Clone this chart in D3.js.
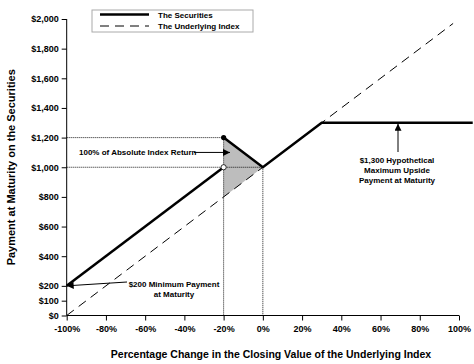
<!DOCTYPE html>
<html>
<head>
<meta charset="utf-8">
<script src="https://cdn.jsdelivr.net/npm/d3@7"></script>
<style>
  html, body { margin: 0; padding: 0; background: #fff; }
  svg { display: block; }
</style>
</head>
<body>
<div id="chart"></div>
<script>
const INK  = '#000000';
const SHADE = '#bdbdbd';
const FONT = "'Liberation Sans', Arial, sans-serif";

// Data (index return in %, payment in $)
const xTicks = [-100, -80, -60, -40, -20, 0, 20, 40, 60, 80, 100];
const yTicks = [0, 100, 200, 400, 600, 800, 1000, 1200, 1400, 1600, 1800, 2000];
const securitiesLow  = [[-100, 200], [-20, 1000]];
const securitiesHigh = [[-20, 1200], [0, 1000], [30, 1300], [107, 1300]];
const indexLine      = [[-100, 0], [97, 1970]];
const shaded         = [[-20, 1200], [0, 1000], [-20, 800]];
const legendItems    = [
  { label: 'The Securities', dash: null, width: 2.5 },
  { label: 'The Underlying Index', dash: '9,6', width: 1 }
];

const W = 474, H = 364;
const x = d3.scaleLinear().domain([-100, 100]).range([66.7, 459]);
const y = d3.scaleLinear().domain([0, 2000]).range([315.5, 19]);

const svg = d3.select('#chart').append('svg')
  .attr('width', W).attr('height', H)
  .style('font-family', FONT);

svg.append('defs').append('marker')
  .attr('id', 'arrow')
  .attr('viewBox', '0 0 10 10')
  .attr('refX', 10).attr('refY', 5)
  .attr('markerWidth', 10).attr('markerHeight', 7)
  .attr('markerUnits', 'userSpaceOnUse')
  .attr('orient', 'auto')
  .append('path').attr('d', 'M0,0 L10,5 L0,10 Z').attr('fill', INK);

// shaded region
svg.append('path')
  .datum(shaded)
  .attr('d', d3.line().x(d => x(d[0])).y(d => y(d[1])))
  .attr('fill', SHADE);

// dotted reference lines
const dotted = [
  [[-100, 1200], [-20, 1200]],
  [[-100, 1000], [0, 1000]],
  [[-20, 1200], [-20, 0]],
  [[0, 1000], [0, 0]]
];
dotted.forEach(seg => {
  svg.append('line')
    .attr('x1', x(seg[0][0])).attr('y1', y(seg[0][1]))
    .attr('x2', x(seg[1][0])).attr('y2', y(seg[1][1]))
    .attr('stroke', INK).attr('stroke-width', 0.9)
    .attr('stroke-dasharray', '1,1');
});

// axes
const xAxis = svg.append('g')
  .attr('transform', `translate(0,${y(0)})`)
  .call(d3.axisBottom(x).tickValues(xTicks).tickSize(5).tickPadding(5).tickFormat(d => `${d}%`));
const yAxis = svg.append('g')
  .attr('transform', `translate(${x(-100)},0)`)
  .call(d3.axisLeft(y).tickValues(yTicks).tickSize(5).tickPadding(3).tickFormat(d => '$' + d3.format(',')(d)));
[xAxis, yAxis].forEach(ax => {
  ax.select('.domain').attr('stroke', INK).attr('stroke-width', 1);
  ax.selectAll('line').attr('stroke', INK);
  ax.selectAll('text').attr('fill', INK)
    .style('font-family', FONT).style('font-size', '9px').style('font-weight', 'bold');
});
xAxis.select('.domain').attr('d', `M${x(-100)},0H${x(100)}`);
yAxis.select('.domain').attr('d', `M0,${y(0)}V${y(2000)}`);

// underlying index
svg.append('path')
  .datum(indexLine)
  .attr('d', d3.line().x(d => x(d[0])).y(d => y(d[1])))
  .attr('fill', 'none').attr('stroke', INK)
  .attr('stroke-width', 1).attr('stroke-dasharray', '9,6');

// securities
[securitiesLow, securitiesHigh].forEach(seg => {
  svg.append('path')
    .datum(seg)
    .attr('d', d3.line().x(d => x(d[0])).y(d => y(d[1])))
    .attr('fill', 'none').attr('stroke', INK)
    .attr('stroke-width', 2.5).attr('stroke-linejoin', 'miter');
});
svg.append('circle')
  .attr('cx', x(-20)).attr('cy', y(1000)).attr('r', 2.6)
  .attr('fill', '#fff').attr('stroke', INK).attr('stroke-width', 0.8);
svg.append('circle')
  .attr('cx', x(-20)).attr('cy', y(1200)).attr('r', 2.6)
  .attr('fill', INK);

// annotations
function note(lines, tx, ty, anchor) {
  const t = svg.append('text')
    .attr('text-anchor', anchor)
    .style('font-size', '8px').style('font-weight', 'bold').attr('fill', INK);
  lines.forEach((s, i) => t.append('tspan').attr('x', tx).attr('y', ty + i * 10).text(s));
}
function arrow(x1, y1, x2, y2) {
  svg.append('line')
    .attr('x1', x1).attr('y1', y1).attr('x2', x2).attr('y2', y2)
    .attr('stroke', INK).attr('stroke-width', 1)
    .attr('marker-end', 'url(#arrow)');
}
note(['100% of Absolute Index Return'], 79, y(1100) + 3, 'start');
arrow(194, y(1100), 230, y(1100));

note(['$200 Minimum Payment', 'at Maturity'], 174, 287, 'middle');
arrow(127, 282, x(-100), y(200));

note(['$1,300 Hypothetical', 'Maximum Upside', 'Payment at Maturity'], 397, 163, 'middle');
arrow(398, 152, 398, y(1300) + 1);

// axis titles
svg.append('text')
  .attr('transform', `translate(15,${y(1000)}) rotate(-90)`)
  .attr('text-anchor', 'middle')
  .style('font-size', '11px').style('font-weight', 'bold').attr('fill', INK)
  .text('Payment at Maturity on the Securities');
svg.append('text')
  .attr('x', 271).attr('y', 358)
  .attr('text-anchor', 'middle')
  .style('font-size', '10.5px').style('font-weight', 'bold').attr('fill', INK)
  .text('Percentage Change in the Closing Value of the Underlying Index');

// legend
const lg = svg.append('g').attr('transform', 'translate(92,10)');
lg.append('rect')
  .attr('width', 161).attr('height', 22)
  .attr('fill', '#fff').attr('stroke', '#aaaaaa').attr('stroke-width', 1);
legendItems.forEach((s, i) => {
  const ly = 4.5 + i * 11.5;
  const ln = lg.append('line')
    .attr('x1', 8).attr('x2', 57).attr('y1', ly).attr('y2', ly)
    .attr('stroke', INK).attr('stroke-width', s.width);
  if (s.dash) ln.attr('stroke-dasharray', s.dash);
  lg.append('text')
    .attr('x', 66).attr('y', ly + 3)
    .style('font-size', '8px').style('font-weight', 'bold').attr('fill', INK)
    .text(s.label);
});
</script>
</body>
</html>
